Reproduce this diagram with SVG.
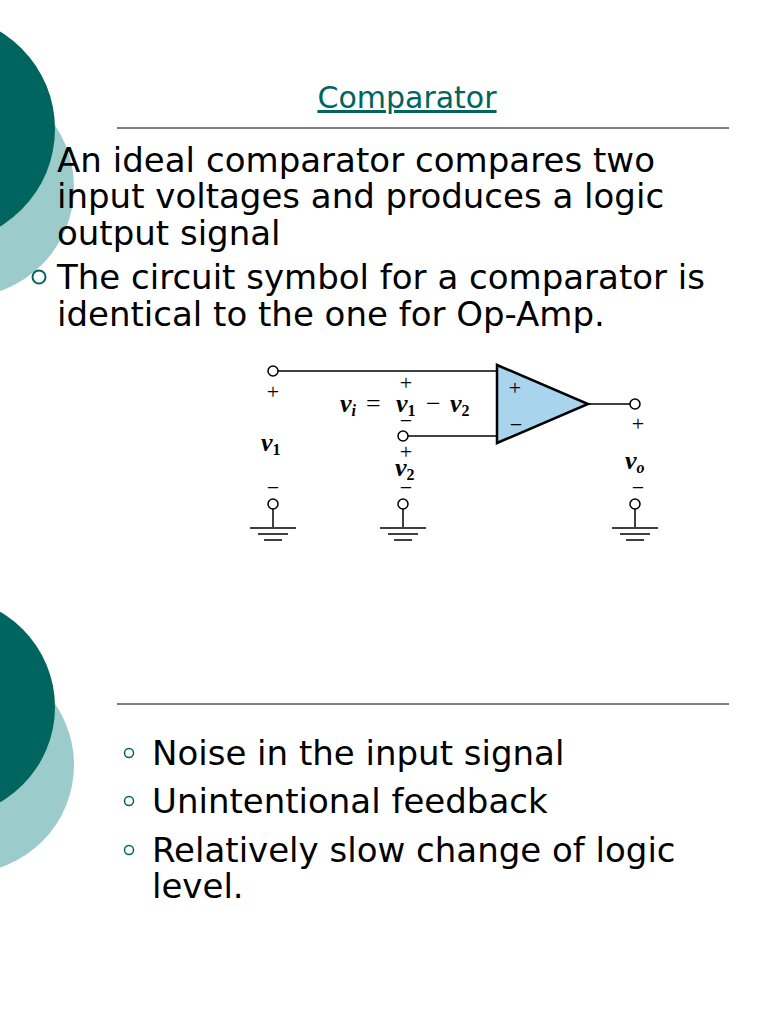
<svg xmlns="http://www.w3.org/2000/svg" width="768" height="1024" viewBox="0 0 768 1024">
<style>
.t{font-family:"DejaVu Sans",Verdana,sans-serif;font-size:34px;fill:#000}
.m{font-family:"Liberation Serif",serif;fill:#000}
.w{stroke:#000;stroke-width:1.5;fill:none}
.o{stroke:#000;stroke-width:1.5;fill:#fff}
</style>
<rect width="768" height="1024" fill="#fff"/>
<circle cx="-36" cy="187" r="110" fill="#9ccbcc"/>
<circle cx="-59" cy="129" r="114" fill="#00645f"/>
<circle cx="-34" cy="765" r="108" fill="#9ccbcc"/>
<circle cx="-55" cy="707" r="110" fill="#00645f"/>
<text x="407" y="108" text-anchor="middle" font-family="DejaVu Sans,Verdana,sans-serif" font-size="30" fill="#00645f" text-decoration="underline">Comparator</text>
<line x1="117" y1="128" x2="729" y2="128" stroke="#000" stroke-width="1"/>
<text class="t" x="57" y="172" textLength="598">An ideal comparator compares two</text>
<text class="t" x="57" y="208">input voltages and produces a logic</text>
<text class="t" x="57" y="245">output signal</text>
<circle cx="39" cy="277" r="6.5" fill="none" stroke="#00645f" stroke-width="2"/>
<text class="t" x="57" y="289">The circuit symbol for a comparator is</text>
<text class="t" x="57" y="326">identical to the one for Op-Amp.</text>
<g id="circuit">
<polygon points="497,365 588,404 497,443" fill="#a9d4ee" stroke="#000" stroke-width="2.5"/>
<g class="w">
<line x1="277" y1="371" x2="497" y2="371"/>
<line x1="407" y1="436" x2="497" y2="436"/>
<line x1="588" y1="404" x2="631" y2="404"/>
<line x1="273" y1="508" x2="273" y2="527"/><line x1="403" y1="508" x2="403" y2="527"/><line x1="635" y1="508" x2="635" y2="527"/>
<path d="M250 528h46M258 534h30M264 540h18M380 528h46M388 534h30M394 540h18M612 528h46M620 534h30M626 540h18"/>
</g>
<g class="o">
<circle cx="273" cy="371" r="5"/><circle cx="403" cy="436" r="5"/><circle cx="635" cy="404" r="5"/>
<circle cx="273" cy="504" r="5"/><circle cx="403" cy="504" r="5"/><circle cx="635" cy="504" r="5"/>
</g>
<g class="m" font-size="22">
<text x="273" y="399" text-anchor="middle">+</text>
<text x="273" y="495" text-anchor="middle">−</text>
<text x="406" y="390" text-anchor="middle">+</text>
<text x="406" y="428" text-anchor="middle">−</text>
<text x="406" y="459" text-anchor="middle">+</text>
<text x="406" y="495" text-anchor="middle">−</text>
<text x="638" y="431" text-anchor="middle">+</text>
<text x="638" y="495" text-anchor="middle">−</text>
<text x="515" y="395" text-anchor="middle">+</text>
<text x="516" y="432" text-anchor="middle">−</text>
</g>
<g class="m" font-size="26" font-style="italic" font-weight="bold">
<text x="340" y="412">v<tspan font-size="16" dy="4">i</tspan></text>
<text x="366" y="412" font-weight="normal" font-style="normal">=</text>
<text x="396" y="412">v<tspan font-size="16" dy="4" font-style="normal">1</tspan></text>
<text x="426" y="412" font-weight="normal" font-style="normal">−</text>
<text x="450" y="412">v<tspan font-size="16" dy="4" font-style="normal">2</tspan></text>
<text x="261" y="451">v<tspan font-size="16" dy="4" font-style="normal">1</tspan></text>
<text x="395" y="476">v<tspan font-size="16" dy="4" font-style="normal">2</tspan></text>
<text x="625" y="469">v<tspan font-size="16" dy="4">o</tspan></text>
</g>
</g>
<line x1="117" y1="704" x2="729" y2="704" stroke="#000" stroke-width="1"/>
<g fill="none" stroke="#00645f" stroke-width="1.5">
<circle cx="129" cy="753" r="4.5"/><circle cx="129" cy="801" r="4.5"/><circle cx="129" cy="850" r="4.5"/>
</g>
<text class="t" x="152" y="765">Noise in the input signal</text>
<text class="t" x="152" y="813">Unintentional feedback</text>
<text class="t" x="152" y="862">Relatively slow change of logic</text>
<text class="t" x="152" y="898">level.</text>
</svg>
